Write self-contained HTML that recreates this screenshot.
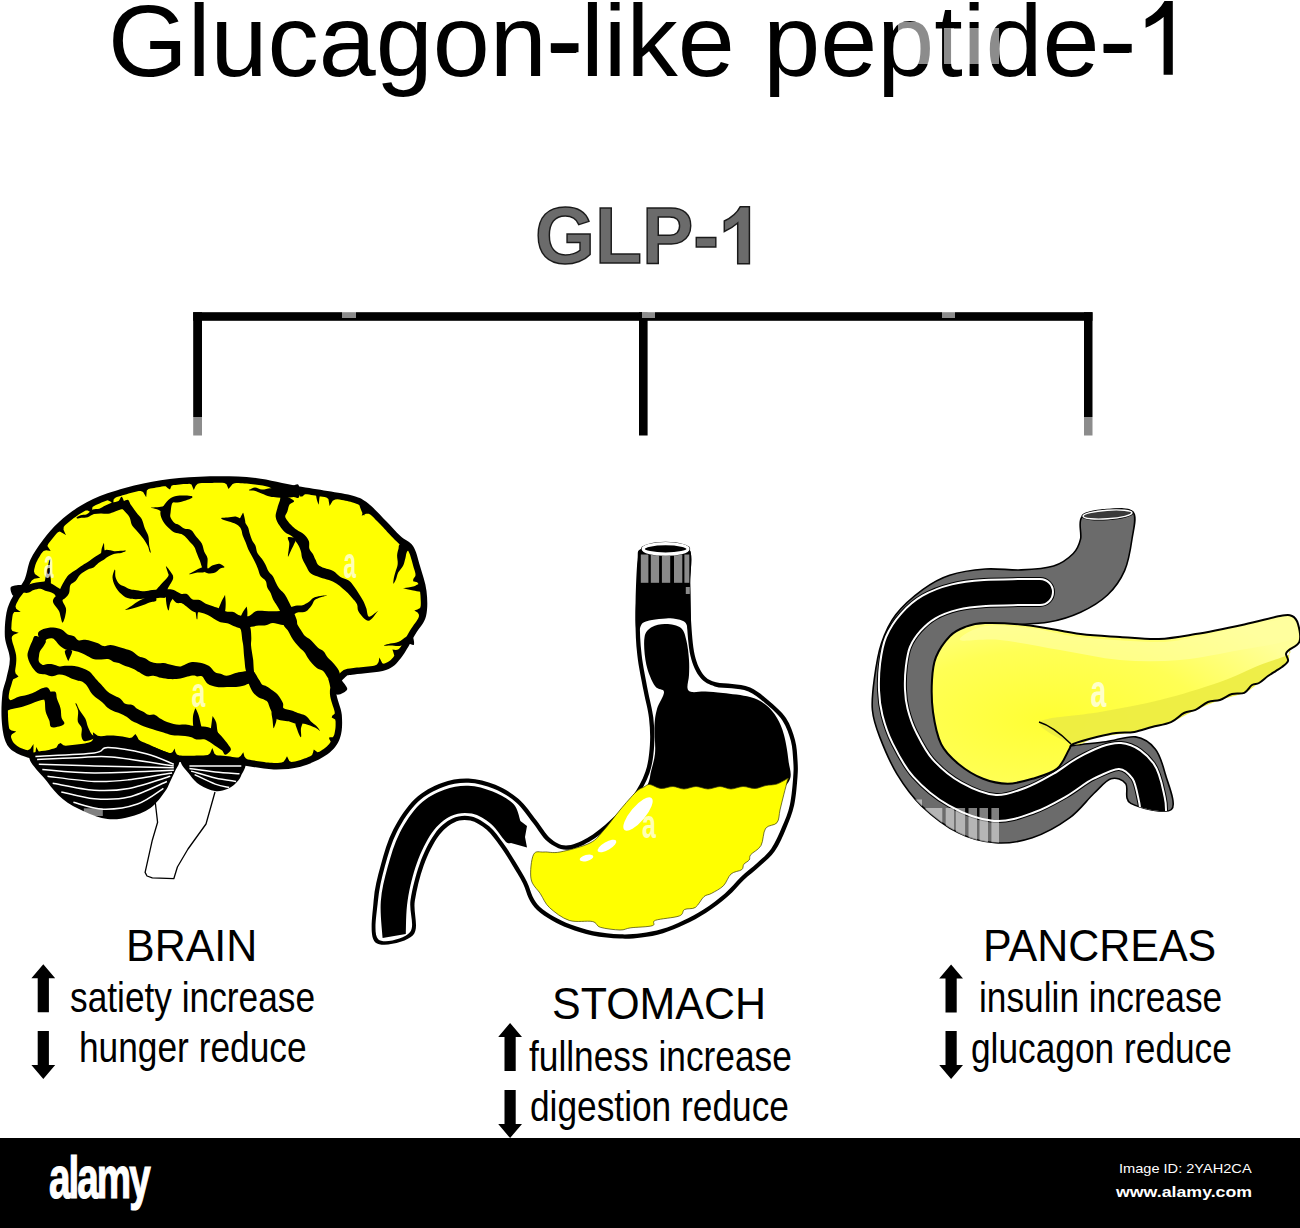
<!DOCTYPE html>
<html><head><meta charset="utf-8">
<style>
html,body{margin:0;padding:0;background:#fff;}
body{width:1300px;height:1228px;position:relative;overflow:hidden;font-family:"Liberation Sans",sans-serif;}
.t{position:absolute;white-space:nowrap;line-height:1;color:#000;transform-origin:0 0;}
#title{left:108px;top:-10px;font-size:102.5px;}
#glp{left:535px;top:196px;font-size:80px;transform:scaleX(0.963);font-weight:bold;color:#6b6b6b;-webkit-text-stroke:1.5px #1a1a1a;}
#bar{position:absolute;left:0;top:1138px;width:1300px;height:90px;background:#000;}
.lab{font-size:44.3px;transform:scaleX(0.97);}
.it{font-size:42px;transform:scaleX(0.84);}
</style></head><body>
<div class="t" id="title">Glucagon-like peptide-</div>
<div class="t" id="glp">GLP-</div>
<div class="t lab" id="brain" style="left:126px;top:923.5px">BRAIN</div>
<div class="t it" id="b1" style="left:70px;top:977px">satiety increase</div>
<div class="t it" id="b2" style="left:78.5px;top:1026.5px">hunger reduce</div>
<div class="t lab" id="stom" style="left:552px;top:982px">STOMACH</div>
<div class="t it" id="s1" style="left:529px;top:1035.6px">fullness increase</div>
<div class="t it" id="s2" style="left:529.5px;top:1086.3px">digestion reduce</div>
<div class="t lab" id="panc" style="left:983px;top:924.4px">PANCREAS</div>
<div class="t it" id="p1" style="left:979px;top:977px">insulin increase</div>
<div class="t it" id="p2" style="left:970.6px;top:1027.5px">glucagon reduce</div>
<svg id="gfx" width="1300" height="1228" viewBox="0 0 1300 1228" style="position:absolute;left:0;top:0">
<path d="M1172.8,0.9 L1172.8,74.8 L1163.6,74.8 L1163.6,17.1 Q1155,24.5 1145.6,27.7 L1145.6,18.9 Q1158,12.5 1164.5,0.9 Z" fill="#000"/>
<rect x="1103.5" y="43.9" width="28.2" height="8.7" fill="#000"/><rect x="550.8" y="43.2" width="27.7" height="9" fill="#000"/>
<path d="M749.4,206.7 L749.4,263.7 L737.7,263.7 L737.7,223 Q731.5,228.5 724.3,231.5 L724.3,221 Q735.5,216 740.3,206.7 Z" fill="#6b6b6b" stroke="#1a1a1a" stroke-width="1.5"/>
<g fill="#000">
<rect x="193.2" y="312.2" width="899.3" height="8.6"/>
<rect x="193.2" y="312.2" width="8.8" height="123.3"/>
<rect x="639" y="312.2" width="8.6" height="123.3"/>
<rect x="1084" y="312.2" width="8.5" height="123.3"/>
<polygon points="43.3,964.3 55.199999999999996,978.3 48.9,978.3 48.9,1012.3 37.699999999999996,1012.3 37.699999999999996,978.3 31.4,978.3"/><polygon points="43.3,1079 55.199999999999996,1065 48.9,1065 48.9,1031 37.699999999999996,1031 37.699999999999996,1065 31.4,1065"/><polygon points="510.1,1022.9 522.0,1036.9 515.7,1036.9 515.7,1070.9 504.5,1070.9 504.5,1036.9 498.20000000000005,1036.9"/><polygon points="510.1,1138 522.0,1124 515.7,1124 515.7,1090 504.5,1090 504.5,1124 498.20000000000005,1124"/><polygon points="951.1,964.5 963.0,978.5 956.7,978.5 956.7,1012.5 945.5,1012.5 945.5,978.5 939.2,978.5"/><polygon points="951.1,1079 963.0,1065 956.7,1065 956.7,1031 945.5,1031 945.5,1065 939.2,1065"/>
</g>
<!--ORGANS-->
<path d="M641,549C645.6,542.7 657,546 665,546C673,546 685.1,542.7 689.3,549C693.5,555.3 689.9,572.2 690.2,584C690.5,595.8 690.2,608.2 691,620C691.8,631.8 692.6,645.8 694.7,655C696.8,664.2 700.1,670.5 703.6,675C707.1,679.5 711.2,680.8 716,682.3C720.8,683.8 726.6,683.1 732.3,684C738,684.9 744.2,684.9 750.2,687.6C756.2,690.3 762,694.9 768,700C774,705.1 781.5,711.3 786,718C790.5,724.7 793.1,733 795,740C796.9,747 797.1,753.8 797.5,760C797.9,766.2 798.1,769.4 797.5,777C796.9,784.6 796,797 794.1,805.6C792.2,814.2 789.3,820.8 786.1,828.4C782.9,836 779.1,844.9 774.7,851.2C770.4,857.5 765.1,861.2 760,866C754.9,870.8 749.2,874.9 743.8,880C738.4,885.1 734,891.1 727.7,896.6C721.4,902.1 713.4,908.1 706.2,912.8C699,917.5 691.8,921.2 684.6,924.6C677.4,928 670.3,931.1 663.1,933.2C655.9,935.4 648.7,936.6 641.5,937.5C634.3,938.4 628.2,939 620,938.6C611.8,938.2 600.8,937.1 592.3,935.4C583.8,933.7 575.9,931 569.2,928.5C562.5,926 557.4,923.5 552,920.4C546.6,917.3 540.9,913.6 537,910C533.1,906.4 531.1,902.9 528.8,898.5C526.5,894.1 525.9,889.3 523,883.5C520.1,877.7 515.3,870 511.5,863.8C507.7,857.5 504.2,851.7 500,846C495.8,840.3 491.3,833.8 486.4,829.6C481.4,825.4 475.7,821.8 470.3,820.6C464.9,819.4 459.6,819.7 454.2,822.4C448.8,825.1 443.1,829.5 438,836.7C432.9,843.9 427.6,854.7 423.7,865.4C419.8,876.1 416.6,889.4 414.8,901C413,912.6 419.6,928.4 413,935.3C406.4,942.2 382,948.1 375.4,942.4C368.8,936.7 372.7,913.8 373.6,901C374.5,888.2 377.4,877.3 380.7,865.4C384,853.5 387.6,840.7 393.3,829.6C399,818.5 406.7,806.8 414.8,799C422.9,791.2 432.8,786.4 441.7,783C450.6,779.6 459.6,778.2 468.5,778.5C477.4,778.8 487,781.4 495.4,784.8C503.8,788.2 511.8,793 518.7,799C525.6,805 531.4,814.1 536.6,820.6C541.8,827.1 545.1,833.9 550,838C554.9,842.1 559.8,845.5 566,845.5C572.2,845.5 579.8,842.2 587.2,838C594.6,833.8 603,826.9 610.5,820C618,813.1 626.2,804.8 632,796.7C637.8,788.7 642.4,780.4 645.4,771.7C648.4,763.1 649.3,753.8 649.9,744.8C650.5,735.8 650,727 649,718C648,709 645.6,701.5 643.6,691C641.6,680.5 638.6,666.8 637.3,655C635.9,643.2 635.5,631.8 635.5,620C635.5,608.2 636.4,595.8 637.3,584C638.2,572.2 636.4,555.3 641,549Z" fill="#000"/>
<path d="M644.5,551.5C648.4,545.9 658.1,550.3 665,550.3C671.9,550.3 682.2,545.7 685.7,551.4C689.2,557 685.7,572.6 685.9,584.1C686.1,595.6 685.9,608.3 686.7,620.3C687.5,632.2 688.3,646.4 690.5,656C692.8,665.5 696.2,672.6 700.2,677.6C704.2,682.7 709.5,684.6 714.7,686.4C720,688.2 726,687.4 731.6,688.2C737.3,689.1 742.8,689 748.4,691.5C754,694 759.6,698.5 765.2,703.3C770.9,708.1 778.2,714.1 782.4,720.4C786.7,726.7 789.1,734.5 790.9,741.1C792.6,747.8 792.8,754.4 793.2,760.3C793.6,766.2 793.8,769.3 793.2,776.7C792.7,784.1 791.7,796.3 789.9,804.7C788.1,813 785.3,819.4 782.1,826.7C779,834.1 775.3,842.7 771.2,848.7C767,854.8 762.1,858.2 757.1,862.9C752,867.5 746.2,871.8 740.8,876.9C735.5,882 731,888 724.9,893.4C718.7,898.7 710.9,904.6 703.9,909.2C696.8,913.8 689.8,917.4 682.8,920.7C675.8,924 668.8,927 661.9,929.1C654.9,931.2 647.9,932.4 641,933.2C634,934.1 628.2,934.6 620.2,934.3C612.2,934 601.4,932.8 593.1,931.2C584.9,929.5 577.2,926.9 570.7,924.5C564.2,922.1 559.3,919.6 554.1,916.7C549,913.7 543.5,910.2 540,906.9C536.4,903.5 534.8,900.7 532.6,896.5C530.4,892.3 529.8,887.4 526.8,881.6C523.9,875.8 519.1,867.9 515.2,861.6C511.3,855.2 507.8,849.3 503.5,843.5C499.1,837.6 494.6,830.8 489.2,826.3C483.8,821.8 477.4,817.7 471.2,816.4C465.1,815.1 458.4,815.6 452.3,818.6C446.2,821.5 439.9,826.6 434.5,834.2C429.1,841.8 423.6,852.9 419.7,863.9C415.7,875 412.2,889 410.5,900.3C408.9,911.7 415.3,925.9 409.9,932.3C404.5,938.8 383.6,944.3 378.2,939.2C372.9,934 376.8,913.4 377.9,901.3C379,889.2 381.6,878.2 384.8,866.5C388.1,854.9 391.6,842.3 397.1,831.6C402.6,820.8 410.1,809.5 417.8,802.1C425.5,794.7 434.8,790.2 443.2,787C451.7,783.8 459.9,782.5 468.4,782.8C476.8,783.1 485.9,785.5 493.8,788.8C501.7,792 509.3,796.5 515.9,802.2C522.5,808 528,816.8 533.2,823.3C538.5,829.8 541.8,836.9 547.2,841.3C552.7,845.7 559,849.7 566,849.8C573,849.9 581.4,846.2 589.3,841.7C597.2,837.3 605.7,830.2 613.4,823.2C621.1,816.1 629.5,807.6 635.5,799.2C641.5,790.9 646.3,782.1 649.5,773.1C652.6,764.1 653.6,754.4 654.2,745.1C654.8,735.8 654.3,726.6 653.3,717.5C652.2,708.4 649.8,700.7 647.8,690.2C645.9,679.7 642.9,666.2 641.6,654.5C640.2,642.8 639.8,631.7 639.8,620C639.8,608.3 640.8,595.7 641.6,584.3C642.4,572.9 640.6,557.2 644.5,551.5Z" fill="#fff"/>
<path d="M637.5,560C638.4,551.5 636.4,551.3 641,549C645.6,546.7 657,546 665,546C673,546 685.1,542.7 689.3,549C693.5,555.3 689.9,571.3 690.2,584C690.5,596.7 691,616.2 691,625C691,633.8 690.9,637.3 690,637C689.1,636.7 688,626 685.7,623C683.4,620 679.3,619.8 676,619C672.7,618.2 670,618.3 666,618.5C662,618.7 655.9,619.2 652,620C648.1,620.8 644.9,621.3 642.7,623C640.5,624.7 640.1,629.2 639,630C637.9,630.8 636.6,633 636,628C635.4,623 635.4,611.3 635.6,600C635.9,588.7 636.6,568.5 637.5,560Z" fill="#000"/>
<path d="M666,624C670.8,624.2 677.6,625.2 681,628C684.4,630.8 685.2,635.7 686.5,641C687.8,646.3 688.6,654.3 689,660C689.4,665.7 689.2,670.3 689,675C688.8,679.7 687,685.2 687.5,688C688,690.8 689,691.4 692,692C695,692.6 700.2,691.3 705.4,691.5C710.6,691.7 715.6,692.1 723,693C730.4,693.9 742.8,695 750,697C757.2,699 761.5,701.5 766,705C770.5,708.5 774,713 777,718C780,723 782.1,728 784,735C785.9,742 787.6,752.2 788.4,760C789.1,767.8 793.2,775.3 788.5,782C783.8,788.7 774.8,797 760,800C745.2,803 718.3,800.5 700,800C681.7,799.5 658.3,800.8 650,797C641.7,793.2 649.2,784.2 650,777C650.8,769.8 654.2,762 655,753.7C655.8,745.4 654.2,734.5 654.5,727C654.8,719.5 655.4,714.8 657,709C658.6,703.2 664.3,695.8 664,692C663.7,688.2 658,690.6 655,686C652,681.4 648,672.5 646.3,664.4C644.5,656.3 643.5,643.7 644.5,637.5C645.5,631.3 648.4,629.2 652,627C655.6,624.8 661.2,623.8 666,624Z" fill="#000"/>
<path d="M649.9,784.5C652.7,784.8 657.1,788.2 661,788.5C664.9,788.8 669.2,786.4 673,786.5C676.8,786.6 680.2,789 684,789C687.8,789 692,786.5 696,786.5C700,786.5 704,789 708,789C712,789 716.2,786.5 720,786.5C723.8,786.5 727.2,789 731,789C734.8,789 739,786.6 743,786.5C747,786.4 751.2,788.7 755,788.5C758.8,788.3 762.3,786.2 766,785.5C769.7,784.8 773.4,785.1 777,784C780.6,782.9 786,779.1 787.7,778.6C789.4,778.1 787.9,778.4 787.3,781C786.7,783.6 785.1,789.4 783.9,794.2C782.7,799 781.1,805.2 780,810C778.9,814.8 779.4,819.6 777,822.7C774.6,825.8 768.3,824.6 765.6,828.4C762.9,832.2 763.5,841.1 761,845.5C758.5,849.9 752.8,852.2 750.8,854.6C748.8,857 750.4,858.4 749.2,860C748,861.6 745,862.7 743.8,864.3C742.5,865.9 743.8,868.1 741.7,869.7C739.6,871.3 734,871.3 731,874C728,876.7 726.6,882.6 723.4,885.8C720.1,889 714.7,891.6 711.5,893.4C708.3,895.2 706.7,894.3 704,896.6C701.3,898.9 698.6,905.2 695.4,907.4C692.2,909.5 687.3,908.1 684.6,909.5C681.9,910.9 684.1,914.2 679.2,916C674.4,917.8 660,918.7 655.5,920.3C651,921.9 656.4,924.5 652.3,925.7C648.2,927 636.2,927.1 630.8,927.8C625.4,928.5 625.1,930.1 620,930C614.9,929.9 605,928.7 600.4,927.3C595.8,925.9 597.5,922.6 592.3,921.5C587.1,920.4 576.3,922.7 569.2,920.4C562.1,918.1 554.4,912.1 549.6,907.7C544.8,903.3 543.5,898.6 540.4,893.8C537.3,889 532.1,885.3 531,878.8C529.9,872.3 531.3,859.1 533.5,854.6C535.7,850.1 539.6,852.4 544,852C548.4,851.6 552.3,853.5 560,852C567.7,850.5 582.7,846.7 590,843C597.3,839.3 599,835.5 604,830C609,824.5 614.7,816.3 620,810C625.3,803.7 632,795.8 636,792C640,788.2 641.7,788.2 644,787C646.3,785.8 647.1,784.2 649.9,784.5Z" fill="#ffff00" stroke="#3a3a00" stroke-width="0.7"/>
<ellipse cx="638" cy="814" rx="21" ry="7.5" transform="rotate(-50 638 814)" fill="#fff"/>
<ellipse cx="607" cy="846" rx="10.5" ry="4" transform="rotate(-30 607 846)" fill="#fff"/>
<ellipse cx="586.5" cy="858" rx="7" ry="3" transform="rotate(-15 586.5 858)" fill="#fff"/>
<path d="M520.4,820.9C519.2,818.1 518.1,808.9 513.5,804C508.9,799.1 500.2,794.5 492.7,791.5C485.1,788.4 476.3,786 468.3,785.7C460.2,785.4 452.3,786.6 444.3,789.7C436.2,792.8 427.2,797 419.8,804.2C412.4,811.4 405.1,822.4 399.7,832.9C394.3,843.4 390.8,855.9 387.6,867.3C384.5,878.7 381.6,889.7 380.8,901.5C379.9,913.3 382.3,931.9 382.6,938 L405.8,934.0 " fill="none"/>
<path d="M520.4,820.9C519.2,818.1 518.1,808.9 513.5,804C508.9,799.1 500.2,794.5 492.7,791.5C485.1,788.4 476.3,786 468.3,785.7C460.2,785.4 452.3,786.6 444.3,789.7C436.2,792.8 427.2,797 419.8,804.2C412.4,811.4 405.1,822.4 399.7,832.9C394.3,843.4 390.8,855.9 387.6,867.3C384.5,878.7 381.6,889.7 380.8,901.5C379.9,913.3 382.3,931.9 382.6,938 L405.8,934C406.1,928.3 405.8,911.8 407.7,899.9C409.5,888.1 412.9,874.2 416.9,863C421,851.7 426.5,840.4 432.1,832.5C437.8,824.7 444.4,819.1 451,816C457.6,812.8 465.2,812.2 471.9,813.6C478.6,814.9 485.5,819.5 491.1,824.1C496.7,828.8 502.2,838.3 505.5,841.4C508.9,844.5 510.1,842.7 511,843 L527,847.5 L525,837 L527,826 Z" fill="#000"/>
<rect x="640.8" y="554.5" width="7.6" height="28.3" fill="#8a8a8a"/>
<rect x="650.8" y="554.5" width="8.3" height="28.3" fill="#8a8a8a"/>
<rect x="661.9" y="554.5" width="8.3" height="28.3" fill="#8a8a8a"/>
<rect x="674" y="554.5" width="8.3" height="28.3" fill="#8a8a8a"/>
<rect x="684.4" y="554.5" width="4.9" height="28.3" fill="#8a8a8a"/>
<rect x="685.8" y="587" width="4" height="7" fill="#8a8a8a"/>
<ellipse cx="665.6" cy="548.9" rx="24.6" ry="7.1" fill="#000"/>
<ellipse cx="665.6" cy="548.9" rx="22.4" ry="5.2" fill="#000" stroke="#fff" stroke-width="3.2"/>
<path d="M1082,517C1086.4,512.2 1098.5,510.8 1107,510C1115.5,509.2 1128.8,507.2 1133,512C1137.2,516.8 1133.4,529.2 1132,539C1130.6,548.8 1128.7,561.3 1124.6,570.6C1120.5,579.9 1114.8,588.1 1107.5,595C1100.2,601.9 1090.4,607.7 1080.6,612.2C1070.8,616.7 1062.3,619.7 1048.9,622C1035.5,624.3 1014.8,624.3 1000,626C985.2,627.7 969.2,625.5 960,632C950.8,638.5 948.3,652.8 945,665C941.7,677.2 939.2,691.7 940,705C940.8,718.3 942.8,733.3 950,745C957.2,756.7 969.3,770 983,775C996.7,780 1018.2,779.3 1032,775C1045.8,770.7 1059,753.9 1066,749C1073,744.1 1067.3,746.7 1074,745.5C1080.7,744.3 1095.7,743.2 1106,741.8C1116.3,740.4 1127.5,735.7 1135.7,736.9C1143.9,738.1 1150.5,743.1 1155.4,749.2C1160.3,755.4 1162.5,763.8 1165.2,773.8C1167.9,783.8 1177.1,804.6 1171.4,809.5C1165.7,814.4 1138.4,807.7 1130.8,803.4C1123.2,799.1 1129.1,787.8 1125.8,783.7C1122.5,779.6 1116.3,777.2 1111,778.8C1105.7,780.4 1100.8,786.9 1093.8,793.5C1086.8,800.1 1079.5,810.8 1069.2,818.2C1059,825.6 1044.6,833.7 1032.3,837.8C1020,841.9 1007.7,843.6 995.4,842.8C983.1,842 970.8,839.1 958.5,832.9C946.2,826.7 931.8,815.6 921.5,805.8C911.2,795.9 903.9,785.3 896.9,773.8C889.9,762.3 883.8,747.5 879.7,736.9C875.6,726.3 873.3,719.6 872.4,710C871.5,700.4 872.8,690.1 874.3,679C875.8,667.9 877.9,654 881.5,643.3C885.1,632.6 888.9,623.7 895.8,614.7C902.7,605.8 913.7,596.2 922.7,589.6C931.7,583 939.2,578.6 949.6,575.2C960,571.8 973.5,569.9 985.4,569C997.3,568.1 1009.8,570.4 1021.2,569.9C1032.6,569.4 1044.9,568.7 1053.6,566C1062.3,563.3 1068.8,558 1073.3,553.5C1077.8,549 1079.1,545 1080.6,538.9C1082,532.8 1077.6,521.8 1082,517Z" fill="#6b6b6b" stroke="#000" stroke-width="1.6"/>
<clipPath id="gclip"><path d="M1082,517C1086.4,512.2 1098.5,510.8 1107,510C1115.5,509.2 1128.8,507.2 1133,512C1137.2,516.8 1133.4,529.2 1132,539C1130.6,548.8 1128.7,561.3 1124.6,570.6C1120.5,579.9 1114.8,588.1 1107.5,595C1100.2,601.9 1090.4,607.7 1080.6,612.2C1070.8,616.7 1062.3,619.7 1048.9,622C1035.5,624.3 1014.8,624.3 1000,626C985.2,627.7 969.2,625.5 960,632C950.8,638.5 948.3,652.8 945,665C941.7,677.2 939.2,691.7 940,705C940.8,718.3 942.8,733.3 950,745C957.2,756.7 969.3,770 983,775C996.7,780 1018.2,779.3 1032,775C1045.8,770.7 1059,753.9 1066,749C1073,744.1 1067.3,746.7 1074,745.5C1080.7,744.3 1095.7,743.2 1106,741.8C1116.3,740.4 1127.5,735.7 1135.7,736.9C1143.9,738.1 1150.5,743.1 1155.4,749.2C1160.3,755.4 1162.5,763.8 1165.2,773.8C1167.9,783.8 1177.1,804.6 1171.4,809.5C1165.7,814.4 1138.4,807.7 1130.8,803.4C1123.2,799.1 1129.1,787.8 1125.8,783.7C1122.5,779.6 1116.3,777.2 1111,778.8C1105.7,780.4 1100.8,786.9 1093.8,793.5C1086.8,800.1 1079.5,810.8 1069.2,818.2C1059,825.6 1044.6,833.7 1032.3,837.8C1020,841.9 1007.7,843.6 995.4,842.8C983.1,842 970.8,839.1 958.5,832.9C946.2,826.7 931.8,815.6 921.5,805.8C911.2,795.9 903.9,785.3 896.9,773.8C889.9,762.3 883.8,747.5 879.7,736.9C875.6,726.3 873.3,719.6 872.4,710C871.5,700.4 872.8,690.1 874.3,679C875.8,667.9 877.9,654 881.5,643.3C885.1,632.6 888.9,623.7 895.8,614.7C902.7,605.8 913.7,596.2 922.7,589.6C931.7,583 939.2,578.6 949.6,575.2C960,571.8 973.5,569.9 985.4,569C997.3,568.1 1009.8,570.4 1021.2,569.9C1032.6,569.4 1044.9,568.7 1053.6,566C1062.3,563.3 1068.8,558 1073.3,553.5C1077.8,549 1079.1,545 1080.6,538.9C1082,532.8 1077.6,521.8 1082,517Z"/></clipPath>
<g clip-path="url(#gclip)"><path d="M1040,592C1036.8,592 1030.2,591.8 1021,592C1011.8,592.2 996,592.2 985,593C974,593.8 964.3,594.7 955,597C945.7,599.3 936.3,602.8 929,607C921.7,611.2 916.2,616.2 911,622C905.8,627.8 901,634.8 898,642C895,649.2 894,657 893,665C892,673 891.7,682.2 892,690C892.3,697.8 893,704.2 895,712C897,719.8 899.3,727.7 904,737C908.7,746.3 914.5,758.5 923,768C931.5,777.5 943,787.3 955,794C967,800.7 982.5,807 995,808C1007.5,809 1019.2,803.8 1030,800C1040.8,796.2 1050.3,790.5 1060,785C1069.7,779.5 1078,771.8 1088,767C1098,762.2 1110.8,755.3 1120,756C1129.2,756.7 1137.7,763.7 1143,771C1148.3,778.3 1150.3,792.7 1152,800C1153.7,807.3 1152.8,812.5 1153,815" fill="none" stroke="#000" stroke-width="30" stroke-linejoin="round" stroke-linecap="round"/>
<path d="M1040,592C1036.8,592 1030.2,591.8 1021,592C1011.8,592.2 996,592.2 985,593C974,593.8 964.3,594.7 955,597C945.7,599.3 936.3,602.8 929,607C921.7,611.2 916.2,616.2 911,622C905.8,627.8 901,634.8 898,642C895,649.2 894,657 893,665C892,673 891.7,682.2 892,690C892.3,697.8 893,704.2 895,712C897,719.8 899.3,727.7 904,737C908.7,746.3 914.5,758.5 923,768C931.5,777.5 943,787.3 955,794C967,800.7 982.5,807 995,808C1007.5,809 1019.2,803.8 1030,800C1040.8,796.2 1050.3,790.5 1060,785C1069.7,779.5 1078,771.8 1088,767C1098,762.2 1110.8,755.3 1120,756C1129.2,756.7 1137.7,763.7 1143,771C1148.3,778.3 1150.3,792.7 1152,800C1153.7,807.3 1152.8,812.5 1153,815" fill="none" stroke="#fff" stroke-width="28" stroke-linejoin="round" stroke-linecap="round"/>
<path d="M1040,592C1036.8,592 1030.2,591.8 1021,592C1011.8,592.2 996,592.2 985,593C974,593.8 964.3,594.7 955,597C945.7,599.3 936.3,602.8 929,607C921.7,611.2 916.2,616.2 911,622C905.8,627.8 901,634.8 898,642C895,649.2 894,657 893,665C892,673 891.7,682.2 892,690C892.3,697.8 893,704.2 895,712C897,719.8 899.3,727.7 904,737C908.7,746.3 914.5,758.5 923,768C931.5,777.5 943,787.3 955,794C967,800.7 982.5,807 995,808C1007.5,809 1019.2,803.8 1030,800C1040.8,796.2 1050.3,790.5 1060,785C1069.7,779.5 1078,771.8 1088,767C1098,762.2 1110.8,755.3 1120,756C1129.2,756.7 1137.7,763.7 1143,771C1148.3,778.3 1150.3,792.7 1152,800C1153.7,807.3 1152.8,812.5 1153,815" fill="none" stroke="#000" stroke-width="24" stroke-linejoin="round" stroke-linecap="round"/></g>
<defs><radialGradient id="pg" cx="0.32" cy="0.62" r="0.75"><stop offset="0" stop-color="#ffff33"/><stop offset="0.55" stop-color="#ffff55"/><stop offset="1" stop-color="#ffff99"/></radialGradient><linearGradient id="pt" x1="0" y1="0" x2="0" y2="1"><stop offset="0" stop-color="#ffff88" stop-opacity="0"/><stop offset="1" stop-color="#e6e640" stop-opacity="1"/></linearGradient></defs>
<path d="M985,623C995.8,622.7 1014.1,623.5 1030,625.4C1045.9,627.2 1065.6,632.2 1080.6,634.1C1095.6,636 1107,636.2 1120,637C1133,637.8 1146.2,639.5 1158.8,639C1171.4,638.5 1181.2,636.5 1195.5,634.1C1209.8,631.7 1230.2,627.4 1244.3,624.4C1258.4,621.4 1272,617.4 1280,616C1288,614.6 1289,614.7 1292,616C1295,617.3 1296.8,619.8 1298,624C1299.2,628.2 1301,637.2 1299.5,641.5C1298,645.8 1291.2,647.9 1289,650C1286.8,652.1 1286.2,652.2 1286,654C1285.8,655.8 1288.7,658.8 1288,661C1287.3,663.2 1284,665.4 1282,667C1280,668.6 1278.3,669.3 1276,670.8C1273.7,672.3 1270.8,674 1268,676C1265.2,678 1261.7,681.5 1259,683C1256.3,684.5 1254.5,683.4 1252,685C1249.5,686.6 1247.6,691.3 1244.3,692.8C1241,694.3 1236.1,692.8 1232,694C1227.9,695.2 1223.9,698.7 1219.9,700C1215.9,701.3 1212.1,700.4 1208,702C1203.9,703.6 1199.5,708.1 1195.5,709.9C1191.5,711.7 1188.1,711 1184,713C1179.9,715 1176.3,719.8 1171,722.1C1165.7,724.4 1158.1,725.4 1152,727C1145.9,728.6 1140.4,730.9 1134.4,731.9C1128.4,732.9 1122.1,732.2 1116,733C1109.9,733.8 1104.8,735 1097.7,736.8C1090.6,738.6 1078,741.9 1073.3,744C1068.5,746.1 1071.9,745.1 1069.2,749.2C1066.5,753.4 1063.1,764 1056.9,768.9C1050.8,773.8 1040.5,776.3 1032.3,778.8C1024.1,781.3 1015.9,783.7 1007.7,783.7C999.5,783.7 991.3,782.1 983.1,778.8C974.9,775.5 965.5,769.8 958.5,764C951.5,758.2 945.5,753 941.2,744.3C937,735.6 934.5,722.7 933,712C931.5,701.3 931.5,689.2 932,680C932.5,670.8 933,664.3 936,657C939,649.7 945.2,641 950,636C954.8,631 959.2,629.2 965,627C970.8,624.8 974.2,623.3 985,623Z" fill="url(#pg)"/>
<path d="M1040,722C1044.5,716.7 1080,715.7 1100,712C1120,708.3 1140,705 1160,700C1180,695 1203.3,687.8 1220,682C1236.7,676.2 1248.7,669.5 1260,665C1271.3,660.5 1283.2,657.5 1288,655C1292.8,652.5 1289,649 1289,650C1289,651 1290,657.7 1288,661C1286,664.3 1281.7,666.5 1277,670C1272.3,673.5 1265.3,678.2 1260,682C1254.7,685.8 1251.7,689.5 1245,692.5C1238.3,695.5 1228.2,697.1 1220,700C1211.8,702.9 1203.7,706.3 1195.5,710C1187.3,713.7 1181.2,718.4 1171,722C1160.8,725.6 1146.6,729.4 1134.4,731.9C1122.2,734.4 1107.9,734.8 1097.7,736.8C1087.5,738.8 1082.9,746.5 1073.3,744C1063.7,741.5 1035.5,727.3 1040,722Z" fill="#ecec42" opacity="0.9"/>
<path d="M985,626C996.7,624 1014.2,626.2 1030,628C1045.8,629.8 1058.7,634.7 1080,637C1101.3,639.3 1138.8,642 1158,642C1177.2,642 1180.7,639.5 1195,637C1209.3,634.5 1228.5,630 1244,627C1259.5,624 1279.3,618.8 1288,619C1296.7,619.2 1295.7,624.5 1296,628C1296.3,631.5 1299.3,636.3 1290,640C1280.7,643.7 1258.3,646.7 1240,650C1221.7,653.3 1200,658.3 1180,660C1160,661.7 1140,661.7 1120,660C1100,658.3 1080,653.3 1060,650C1040,646.7 1016.7,641.7 1000,640C983.3,638.3 962.5,642.3 960,640C957.5,637.7 973.3,628 985,626Z" fill="#ffffa0" opacity="0.7"/>
<path d="M985,623C995.8,622.7 1014.1,623.5 1030,625.4C1045.9,627.2 1065.6,632.2 1080.6,634.1C1095.6,636 1107,636.2 1120,637C1133,637.8 1146.2,639.5 1158.8,639C1171.4,638.5 1181.2,636.5 1195.5,634.1C1209.8,631.7 1230.2,627.4 1244.3,624.4C1258.4,621.4 1272,617.4 1280,616C1288,614.6 1289,614.7 1292,616C1295,617.3 1296.8,619.8 1298,624C1299.2,628.2 1301,637.2 1299.5,641.5C1298,645.8 1291.2,647.9 1289,650C1286.8,652.1 1286.2,652.2 1286,654C1285.8,655.8 1288.7,658.8 1288,661C1287.3,663.2 1284,665.4 1282,667C1280,668.6 1278.3,669.3 1276,670.8C1273.7,672.3 1270.8,674 1268,676C1265.2,678 1261.7,681.5 1259,683C1256.3,684.5 1254.5,683.4 1252,685C1249.5,686.6 1247.6,691.3 1244.3,692.8C1241,694.3 1236.1,692.8 1232,694C1227.9,695.2 1223.9,698.7 1219.9,700C1215.9,701.3 1212.1,700.4 1208,702C1203.9,703.6 1199.5,708.1 1195.5,709.9C1191.5,711.7 1188.1,711 1184,713C1179.9,715 1176.3,719.8 1171,722.1C1165.7,724.4 1158.1,725.4 1152,727C1145.9,728.6 1140.4,730.9 1134.4,731.9C1128.4,732.9 1122.1,732.2 1116,733C1109.9,733.8 1104.8,735 1097.7,736.8C1090.6,738.6 1078,741.9 1073.3,744C1068.5,746.1 1071.9,745.1 1069.2,749.2C1066.5,753.4 1063.1,764 1056.9,768.9C1050.8,773.8 1040.5,776.3 1032.3,778.8C1024.1,781.3 1015.9,783.7 1007.7,783.7C999.5,783.7 991.3,782.1 983.1,778.8C974.9,775.5 965.5,769.8 958.5,764C951.5,758.2 945.5,753 941.2,744.3C937,735.6 934.5,722.7 933,712C931.5,701.3 931.5,689.2 932,680C932.5,670.8 933,664.3 936,657C939,649.7 945.2,641 950,636C954.8,631 959.2,629.2 965,627C970.8,624.8 974.2,623.3 985,623Z" fill="none" stroke="#000" stroke-width="2"/>
<path d="M1039,722 C1052,726 1062,735 1071,744" fill="none" stroke="#000" stroke-width="1.5"/>
<rect x="914.4" y="799.5" width="7.6" height="8.5" fill="#fff" fill-opacity="0.5" clip-path="url(#gclip)"/>
<rect x="925.4" y="808" width="16.9" height="16.0" fill="#fff" fill-opacity="0.5" clip-path="url(#gclip)"/>
<rect x="945.7" y="808" width="8.4" height="34.6" fill="#fff" fill-opacity="0.5" clip-path="url(#gclip)"/>
<rect x="955.8" y="808" width="9.3" height="34.6" fill="#fff" fill-opacity="0.5" clip-path="url(#gclip)"/>
<rect x="968.5" y="808" width="8.5" height="34.6" fill="#fff" fill-opacity="0.5" clip-path="url(#gclip)"/>
<rect x="979.5" y="808" width="8.5" height="34.6" fill="#fff" fill-opacity="0.5" clip-path="url(#gclip)"/>
<rect x="991.4" y="808" width="7.6" height="34.6" fill="#fff" fill-opacity="0.5" clip-path="url(#gclip)"/>
<ellipse cx="1107.5" cy="514.5" rx="25.7" ry="5.2" transform="rotate(-4 1107.5 514.5)" fill="#3a3a3a" stroke="#000" stroke-width="1"/>
<ellipse cx="1107.5" cy="514.5" rx="24.5" ry="4.3" transform="rotate(-4 1107.5 514.5)" fill="none" stroke="#fff" stroke-width="1.4"/>
<path d="M156,770 L155,800 L157.6,822.3 L152.3,840.2 L145.1,872.4 L147,876 L152.3,877.8 L173.8,878.7 L177.4,867 L188,849 L206,824 L215,792 L218,770Z" fill="#fff"/>
<path d="M155,800 L157.6,822.3 L152.3,840.2 L145.1,872.4 L147,876 L152.3,877.8 L173.8,878.7 L177.4,867 L188,849 L206,824 L215,792" fill="none" stroke="#000" stroke-width="1.3" stroke-linejoin="round"/>
<path d="M29.3,758C24.8,756.7 17.1,754 13,751C8.9,748 6.8,745.1 4.9,739.7C3,734.3 2,726.1 1.6,718.5C1.2,710.9 1.6,700.8 2.4,694C3.2,687.2 5.3,683.8 6.5,677.8C7.7,671.8 10.1,665 9.8,658.2C9.5,651.4 5.5,644.6 4.9,637C4.4,629.4 5.2,619.4 6.5,612.6C7.8,605.8 10,601.7 13,596.3C16,590.9 21.5,586.1 24.4,580C27.3,573.9 27.4,566.3 30.5,559.6C33.6,552.9 38.2,546.3 43,540C47.8,533.7 52.7,527.7 59,522C65.3,516.3 72.5,510.6 80.6,505.8C88.7,501 97,497 107.5,493.3C118,489.6 131.4,485.9 143.3,483.4C155.2,480.8 166.2,479.2 179,478C191.8,476.8 207.2,476.3 220,476.3C232.8,476.3 243,476.4 255.8,478C268.6,479.6 285.1,483.8 297,486C308.9,488.2 318,489.3 327.5,491C337,492.7 347.1,493.9 353.8,496C360.6,498.1 362.6,499.1 368,503.3C373.4,507.5 380.6,515.5 386,521C391.4,526.5 395.9,531.8 400.4,536C404.9,540.2 409.7,541 413,546C416.3,551 417.8,558.5 420,566C422.2,573.5 425.5,582.6 426.5,591C427.5,599.4 427.8,609 426,616.2C424.2,623.4 419.7,627 415.5,634C411.3,641 405.9,652 401,658C396.1,664 393.8,667.2 386,670C378.2,672.8 361.2,673.3 354.4,674.5C347.6,675.7 348.4,674.2 345.4,677C342.4,679.8 337,685.2 336.4,691.5C335.8,697.8 341.2,707 341.8,714.8C342.4,722.5 342.4,731.4 340,738C337.6,744.6 334.1,749.4 327.5,754.2C320.9,759 309.6,764.2 300.6,766.7C291.6,769.2 282.6,769.5 273.7,769.4C264.8,769.3 255.8,767.2 246.9,766C238,764.8 231.3,762.7 220,762C208.7,761.3 188.8,762.8 179,762C169.2,761.2 168.6,759.7 161.2,757C153.8,754.3 143.3,748.5 134.4,746C125.5,743.5 115,741.5 107.5,742C100,742.5 97.1,747.2 89.6,749C82.1,750.8 71,751.3 62.7,753C54.4,754.7 45.6,758.2 40,759C34.4,759.8 33.8,759.3 29.3,758Z" fill="#000"/>
<path d="M33.5,744.1 L30.2,748.9 L27.7,750.2 L25.5,749.8 L23.4,749.1 L21.4,748.3 L19.6,747.4 L18,746.6 L16.9,745.8 L15.4,744.6 L14.3,743.5 L13.4,742.4 L12.6,741.2 L11.8,739.6 L11.1,737.5 L11,736.1 L11.9,734.2 L16.3,731.5 L11.5,730.6 L9.4,728.9 L8.9,726.9 L8.6,724.7 L8.4,722.6 L8.2,720.3 L8.1,718.1 L8,716.3 L8,714.4 L7.9,712.4 L7.9,710.3 L8,708.3 L8.2,706.2 L9.4,704.1 L14.6,702.4 L10.1,700.2 L8.7,698.2 L8.7,696.4 L8.8,694.9 L9.2,692.7 L9.5,690.9 L10,689.2 L10.5,687.5 L11.1,685.7 L11.7,683.7 L12.3,681.5 L13.2,679.3 L16,677.9 L18.5,676.4 L15.6,673.4 L15.1,670.9 L15.4,668.5 L15.8,666 L16.1,663.4 L16.3,660.7 L16.3,657.9 L16.1,655.3 L15.6,652.7 L15,650.4 L14.3,648.1 L13.7,645.9 L13,643.9 L12.4,641.9 L12,640 L11.7,638.2 L12,636.4 L13.7,634.7 L18.7,632.8 L12.4,631 L11.3,629 L11.4,627 L11.5,624.9 L11.6,622.9 L11.8,620.9 L12.1,619 L12.3,617.2 L12.6,615.5 L12.9,613.9 L14.3,612 L20.7,612 L16.2,608.8 L15.5,606.6 L15.9,604.9 L16.7,603.1 L17.6,601.4 L18.6,599.5 L19.5,598.1 L20.6,596.6 L21.8,595 L23.1,593.3 L24.5,591.5 L26,589.6 L27.5,587.5 L29,585.3 L30.3,582.9 L31.8,580.6 L34.3,578.8 L40.2,577.7 L34.9,573.9 L34,571.5 L34.2,569.4 L34.7,567.4 L35.2,565.6 L35.7,563.9 L36.4,562.3 L37.2,560.7 L38,559.1 L39,557.4 L40,555.7 L41,554 L42.2,552.4 L43.6,550.9 L46.2,550.2 L50.7,551 L47.4,546 L48.2,543.9 L49.3,542.4 L50.5,540.9 L51.7,539.4 L52.9,537.9 L54.1,536.5 L55.3,535.1 L56.6,533.6 L57.9,532.3 L59.8,531.5 L65.9,535 L63.5,529.8 L63.7,527.1 L64.8,525.6 L66.2,524.3 L67.7,523 L69.2,521.8 L70.7,520.6 L72.3,519.3 L73.8,518.1 L75.5,516.9 L77.1,515.8 L78.8,514.6 L80.5,513.5 L82.2,512.5 L83.9,511.4 L85.7,510.6 L87.8,510.4 L91,512.4 L92,510.3 L92.5,507 L94.1,505.9 L95.9,505 L97.7,504.2 L99.6,503.4 L101.5,502.6 L103.5,501.8 L105.5,501 L107.6,500.3 L110.4,501.5 L113.2,504 L113.6,499.6 L115,497.9 L116.8,497.1 L118.7,496.5 L120.6,495.9 L122.6,495.3 L124.6,494.7 L126.6,494.2 L128.6,493.6 L130.6,493.1 L132.6,492.6 L134.7,492.1 L136.7,491.6 L138.7,491.1 L140.8,491 L143.1,492 L146.2,497.2 L146.8,490.5 L148.5,489 L150.4,488.6 L152.3,488.2 L154.2,487.9 L156.1,487.5 L158,487.2 L159.9,486.9 L161.8,486.6 L163.7,486.3 L165.7,486.3 L167.9,488.2 L170,489.6 L171.5,485.8 L173.5,485.1 L175.5,484.9 L177.5,484.7 L179.6,484.5 L181.5,484.3 L183.4,484.1 L185.4,484 L187.4,483.9 L189.4,483.8 L191.5,484.4 L193.8,490 L195.7,485.7 L197.7,483.7 L199.8,483.3 L201.8,483.1 L203.9,483.1 L206,483 L208.1,482.9 L210.1,482.9 L212.1,482.9 L214.2,482.8 L216.1,482.8 L218.1,482.8 L220,482.8 L222.2,482.8 L224.4,483 L226.5,484.2 L228.5,488.9 L230.6,486.5 L232.6,484.1 L234.7,483.3 L236.6,483.1 L238.6,483.1 L240.6,483.2 L242.6,483.3 L244.6,483.4 L246.6,483.6 L248.6,483.8 L250.7,484 L252.8,484.2 L255,484.4 L256.8,484.7 L258.8,485 L260.7,485.3 L262.7,485.6 L264.8,486 L266.9,486.4 L268.9,487 L270.9,488.1 L272.7,490.5 L273.9,495.3 L277.3,489.5 L279.7,489.1 L281.8,489.5 L283.9,490 L286,490.4 L288,490.9 L290,491.3 L292,491.7 L294,492 L295.8,492.4 L298.2,493.1 L300,496.4 L302.3,496.6 L304.9,494.3 L307.1,494.3 L309.2,494.6 L311.2,495 L313.2,495.3 L315.1,495.6 L317,495.9 L318.9,496.2 L320.8,496.5 L322.7,496.8 L324.5,497.1 L326.4,497.5 L328.4,499 L329.6,505.9 L332.7,500.7 L335.2,499.4 L337.4,499.3 L339.5,499.6 L341.6,499.9 L343.6,500.3 L345.5,500.7 L347.3,501 L348.9,501.4 L350.5,501.8 L351.9,502.2 L354.4,503 L356.3,503.7 L357.8,504.3 L359.1,505 L360.4,505.8 L362,507 L363.4,509.2 L363.1,511.8 L361.7,515.8 L366,513.8 L368.7,513.8 L370.6,514.8 L372.3,516.3 L373.9,517.8 L375.4,519.4 L377,521 L378.5,522.6 L380,524.1 L381.4,525.5 L382.9,527.1 L384.4,528.7 L385.9,530.3 L387.3,531.9 L388.8,533.4 L390.2,534.9 L391.6,536.4 L393.1,537.9 L394.5,539.4 L396.1,540.9 L398,542.8 L399.8,544.7 L400.9,547.2 L400.6,551.1 L402.6,550.3 L405.2,548.7 L406.6,548.8 L407.6,549.7 L408.2,550.7 L408.8,552 L409.5,553.5 L410.1,555.1 L410.7,557 L411.3,559 L411.9,561.1 L412.5,563.3 L413.1,565.5 L413.8,567.9 L414.4,569.8 L415,571.8 L415.5,573.9 L415.4,576.1 L413.3,579 L413.1,581.2 L417.2,582.2 L418.5,584.1 L419,586 L419.4,588 L419.8,589.9 L420.1,591.8 L420.3,593.8 L420.5,595.8 L420.6,597.9 L420.7,599.9 L420.8,602 L420.8,604 L420.7,606 L420.1,607.9 L417.4,609.4 L414.3,610.6 L417.6,612.6 L418.8,614.3 L419,616 L418.6,617.4 L418,618.7 L417.2,620.1 L416.3,621.5 L415.2,623 L414,624.6 L412.7,626.4 L411.3,628.4 L410,630.6 L409,632.3 L408,634 L407,635.8 L406,637.6 L405,639.4 L403.9,641.3 L402.9,643.1 L401.8,645 L400.8,646.7 L399.6,648.3 L398.1,649.5 L395.9,650.1 L392.4,649.4 L393.2,651.8 L394.3,655.7 L393.1,657.4 L391.9,658.7 L390.8,659.9 L389.8,660.8 L388.7,661.6 L387.4,662.3 L385.8,663.1 L383.8,663.8 L382.3,663.3 L379.4,657.6 L378.6,662 L377,664.5 L374.9,665.5 L372.7,666 L370.3,666.2 L368,666.5 L365.6,666.7 L363.3,667 L361,667.2 L358.9,667.4 L356.9,667.6 L355,667.8 L353.5,668.1 L349.9,668.5 L347.4,668.7 L343.7,670 L341.1,672.1 L339.6,673.6 L338,675.1 L336,676.7 L333.3,678.1 L328.2,678.7 L329.5,683.4 L330.3,687.4 L329.9,690.8 L329.9,693.6 L330.2,696.3 L330.7,698.8 L331.4,701.2 L332.1,703.5 L332.8,705.8 L333.6,707.9 L334.2,710 L334.7,712 L334.7,713.8 L332.2,715.7 L331.7,717.5 L335.2,719.4 L335.6,721.4 L335.6,723.5 L335.6,725.5 L335.5,727.4 L335.3,729.3 L335,731.1 L334.7,732.8 L334.3,734.4 L333.8,735.8 L332.8,737.2 L329.4,737.3 L329.1,738.7 L330.7,741.4 L330.1,742.8 L329.2,744 L328,745.3 L326.8,746.5 L325.3,747.7 L323.7,749 L322.4,749.8 L321,750.7 L319.4,751.7 L317.5,752.2 L313.8,749.4 L313.1,752.3 L312.1,755.1 L310.3,756.2 L308.3,757.1 L306.3,757.9 L304.4,758.6 L302.5,759.3 L300.6,759.9 L298.8,760.4 L297,760.9 L295.1,761.4 L293.2,761.7 L291.3,761.9 L289.3,761.1 L287,756.2 L285.4,759.2 L283.6,761.7 L281.7,762.6 L279.8,762.8 L277.8,762.9 L275.8,762.9 L273.8,762.9 L271.9,762.8 L270,762.7 L268.1,762.6 L266.2,762.4 L264.2,762.1 L262.3,761.8 L260.3,761.5 L258.3,761.2 L256.2,760.9 L254.1,760.5 L252,760.2 L249.9,759.8 L247.9,759.4 L246,758.5 L244.4,756.6 L243.3,752.2 L240.7,756.1 L238.5,757.6 L236.5,757.5 L234.5,757.2 L232.4,756.9 L230.3,756.5 L228,756.2 L225.6,755.9 L223.1,755.7 L220.4,755.5 L218.5,755.4 L216.5,755.2 L214.5,753.8 L212.3,748 L210.1,753.3 L207.9,754.9 L205.6,755.3 L203.4,755.4 L201.1,755.5 L198.8,755.6 L196.5,755.6 L194.3,755.7 L192.1,755.7 L190,755.7 L187.9,755.8 L186,755.8 L184.2,755.7 L182.5,755.7 L180.9,755.6 L179.6,755.5 L176.9,754.6 L175.3,751.8 L174.7,748.4 L172.6,752 L171,753.1 L169.5,753.1 L167.8,752.6 L165.8,751.8 L163.5,750.9 L161.9,750.3 L160.4,749.7 L158.7,749 L156.9,748.2 L155,747.3 L153,746.4 L151,745.5 L149,744.6 L146.9,743.7 L144.8,742.8 L142.7,741.9 L140.6,741 L138.6,739.5 L137.1,736.6 L135.4,733.9 L132,737.6 L129.5,737.9 L127.2,737.5 L124.9,737.1 L122.6,736.6 L120.3,736.3 L118,736 L115.7,735.7 L113.5,735.5 L111.3,735.4 L109.2,735.4 L106.9,735.5 L103.9,735.9 L100.9,736.3 L97.7,735.7 L92.9,732.2 L93.4,737.9 L92.6,740.3 L91.3,741.4 L89.8,742.2 L87.9,742.7 L86.5,743 L84.8,743.4 L82.9,743.7 L81,743.9 L78.9,744.2 L76.8,744.5 L74.6,744.7 L72.4,745 L70.1,745.3 L67.9,745.5 L65.7,745.7 L63.4,745.3 L60.6,742.9 L58.3,744.3 L56.5,747.6 L54.1,748.4 L51.8,749.1 L49.6,749.8 L47.4,750.4 L45.4,751 L43.5,751.5 L41.8,752 L40.3,752.3 L39,752 L36.2,747 L35.5,752.2 L34.7,752.7 L33.4,752.4Z" fill="#ffff00"/>
<path d="M77.1,518.4C77.9,518.5 79.6,517.9 81.4,517.7C83.2,517.6 85.6,517.8 87.7,517.2C89.8,516.6 91.8,514.8 94,514.1C96.2,513.5 98.4,513.4 100.8,513.4C103.1,513.3 105.7,514 108.1,513.7C110.5,513.4 112.9,512.2 115.1,511.4C117.3,510.7 119.5,509.8 121.3,509.3C123.1,508.8 125.7,510.4 125.8,508.3C125.9,506.3 123.2,498.3 122,497C120.8,495.8 120.1,500 118.5,500.9C116.8,501.8 114.3,501.9 112.1,502.6C109.9,503.4 107.5,504.5 105.4,505.5C103.2,506.5 101.4,508 99.3,508.7C97.1,509.4 94.7,508.7 92.6,509.6C90.5,510.6 88.8,513.4 86.8,514.3C84.8,515.2 82.3,514.7 80.6,515.2C79,515.7 77.4,516.7 76.8,517.2C76.2,517.7 76.3,518.3 77.1,518.4Z" fill="#000"/>
<path d="M120.2,504.5C119.6,506.2 122,507.9 123.5,510C125,512.1 128,514.4 129.4,517C130.8,519.5 130.6,522.7 132,525.2C133.5,527.7 136.2,530 138,532.2C139.9,534.4 141.4,536 143,538.2C144.6,540.5 146.6,543.4 147.7,545.7C148.9,548 149.3,551 149.8,552C150.3,553.1 150.8,553 150.7,551.9C150.6,550.7 149.6,547.9 149.2,545.3C148.8,542.6 149.1,538.9 148.3,536C147.6,533.2 145.9,531 144.8,528.2C143.7,525.3 143.1,521.6 141.7,519C140.3,516.4 138.1,514.8 136.4,512.4C134.6,510.1 132.4,507.2 131,505.1C129.5,503 129.3,499.8 127.5,499.7C125.7,499.6 120.9,502.8 120.2,504.5Z" fill="#000"/>
<path d="M191.6,496.1C190.5,495.6 187.7,495.4 185.1,495.4C182.5,495.4 178.9,495.3 176.1,496C173.4,496.8 171.2,497.3 168.6,499.8C166,502.4 161.6,507.8 160.6,511.3C159.7,514.9 161.5,518.2 162.9,521C164.3,523.9 167,526.4 169,528.3C170.9,530.2 172.6,531.6 174.6,532.5C176.7,533.5 179.5,533.3 181.4,534.1C183.3,534.9 184.4,536 186,537.5C187.6,539 189.4,541.3 190.9,543C192.3,544.6 193.6,545.6 194.6,547.4C195.5,549.1 195.9,551.2 196.8,553.3C197.6,555.5 198.4,557.3 199.7,560.3C201,563.4 202.1,569.6 204.4,571.7C206.8,573.9 211.2,573.6 213.8,573C216.5,572.5 218.6,569.4 220.3,568.5C222,567.5 223.4,567.7 224,567.4C224.6,567.1 224.8,567.1 224,566.5C223.2,565.9 221.3,563.8 219.4,563.7C217.4,563.5 214.2,564.8 212.2,565.6C210.2,566.3 208.4,569.5 207.6,568.3C206.8,567 208,561 207.5,558.2C206.9,555.4 205.2,554 204.2,551.6C203.3,549.1 203.1,545.9 201.8,543.5C200.5,541.1 198.3,539.3 196.5,537.1C194.7,534.8 193.1,531.5 191,530.1C188.9,528.6 186.2,529.4 184.2,528.5C182.2,527.7 180.6,525.8 179,524.9C177.3,524 176,524.4 174.6,523.1C173.2,521.9 171.3,519.4 170.6,517.6C169.9,515.8 170.3,515 170.6,512.6C170.9,510.1 171.2,504.6 172.4,502.9C173.5,501.3 175.2,502.9 177.4,502.5C179.7,502.1 183.4,501.3 185.8,500.5C188.2,499.8 190.9,498.8 191.8,498.1C192.8,497.3 192.7,496.5 191.6,496.1Z" fill="#000"/>
<path d="M166.7,506.1C165.7,504.9 161.7,506.9 159.3,507.1C156.8,507.4 153.2,507.4 152,507.6C150.8,507.7 150.8,507.7 151.9,508.1C153.1,508.5 156.6,508.9 158.8,509.9C161,510.9 164,514.6 165.3,514C166.6,513.4 167.7,507.2 166.7,506.1Z" fill="#000"/>
<path d="M203.3,567.4C201.9,567.1 198.6,568.9 196.4,569.9C194.2,570.9 190.9,572.9 189.9,573.6C188.8,574.3 188.9,574.4 190.1,574.3C191.3,574.1 194.7,572.9 197.2,572.5C199.6,572.2 203.6,572.9 204.6,572.1C205.6,571.2 204.6,567.8 203.3,567.4Z" fill="#000"/>
<path d="M125.4,550.4C124.6,550.3 122.7,550.7 120.8,550.8C119,550.9 116.7,551.3 114.2,551.2C111.7,551 108.2,549.6 105.9,549.9C103.6,550.3 102.3,552.2 100.4,553.4C98.6,554.5 96.6,555.7 94.7,557C92.8,558.2 91,559.7 89.3,560.9C87.6,562.1 86.5,562.7 84.3,564.1C82.2,565.6 79,567.7 76.5,569.5C73.9,571.3 70.8,572.9 68.8,574.8C66.7,576.8 65.6,579 64.2,581.3C62.8,583.5 61.5,586.2 60.5,588.2C59.5,590.3 59.3,591.4 58,593.6C56.7,595.8 52.8,598.4 52.9,601.3C53.1,604.2 57.7,608.5 59,611C60.2,613.6 60.1,614.9 60.6,616.7C61.1,618.5 61.6,621.1 62,622C62.5,622.9 62.6,622.9 63.1,622C63.6,621.1 64.6,618.6 65.1,616.4C65.6,614.2 66.4,611.3 66,608.6C65.5,606 62.6,602.4 62.5,600.6C62.4,598.9 64.2,599.3 65.3,598C66.4,596.7 68.3,595.1 69.1,592.9C70,590.8 69.3,587.1 70.4,585.1C71.5,583.2 74,582.8 75.6,581.1C77.3,579.3 78.3,576.5 80.3,574.6C82.4,572.7 85.7,570.8 87.9,569.6C90.1,568.4 91.8,568.7 93.6,567.6C95.3,566.5 96.7,564.5 98.4,563.1C100.1,561.8 102.1,560.8 103.8,559.7C105.4,558.5 106.5,557.4 108.3,556.4C110.1,555.4 112.6,554.3 114.7,553.7C116.9,553.1 119.4,553.4 121.2,553C122.9,552.6 124.8,551.7 125.5,551.3C126.2,550.9 126.2,550.5 125.4,550.4Z" fill="#000"/>
<path d="M106.5,556C107,555 104.9,551.8 104.5,549.8C104.1,547.7 104.2,544.5 104,543.5C103.9,542.5 104,542.5 103.6,543.5C103.2,544.5 101.8,547.7 101.5,549.8C101.2,551.8 100.9,555 101.7,556C102.6,557 106.1,557 106.5,556Z" fill="#000"/>
<path d="M63.7,591.9C63.5,590 59.8,588.9 57.2,587.3C54.6,585.6 50.8,583 48,582.1C45.1,581.2 42.6,581.8 40.1,582C37.6,582.1 35.1,582.7 32.8,583.2C30.5,583.7 28.9,584.8 26.3,585.1C23.6,585.4 19.5,584.8 16.9,585.2C14.3,585.6 11.3,585.8 10.6,587.5C10,589.3 11.8,595 13.2,595.8C14.5,596.6 16.4,592.9 18.8,592.4C21.3,591.9 25.4,593.2 27.9,592.8C30.4,592.4 31.7,590.7 33.8,590.1C35.8,589.4 38.4,588.7 40.3,588.8C42.3,588.9 43,590 45.2,590.8C47.4,591.5 51.2,592.1 53.4,593.4C55.6,594.7 56.8,598.8 58.6,598.6C60.3,598.3 63.9,593.8 63.7,591.9Z" fill="#000"/>
<path d="M49.6,586.8C50.9,586 50.8,583.7 50.9,581.4C51,579.2 50.3,575.9 50.1,573.2C49.9,570.5 49.7,567.4 49.7,565.1C49.8,562.8 50.5,560.6 50.5,559.7C50.4,558.7 49.8,558.7 49.4,559.5C49.1,560.4 48.7,562.7 48.2,564.9C47.7,567.1 46.9,570.1 46.3,572.7C45.8,575.4 45.4,578.5 44.9,580.7C44.4,582.9 42.5,585 43.3,586C44.1,587 48.3,587.5 49.6,586.8Z" fill="#000"/>
<path d="M114.3,570.3C113.9,571.5 112.5,574.7 112.5,577.2C112.6,579.7 113.6,583 114.8,585.5C116,588 117.5,590.3 119.6,592.4C121.7,594.5 124.8,597 127.5,598.1C130.2,599.2 132.8,599.1 135.6,599.2C138.4,599.3 141.5,598.6 144.3,598.5C147.1,598.4 149.8,598.8 152.4,598.7C155,598.5 157.5,598.1 159.9,597.8C162.3,597.5 165,597 166.8,596.9C168.7,596.8 169.5,596.3 171.1,597.2C172.6,598.2 174.3,601.7 176.2,602.7C178,603.7 180.3,602.5 182.2,603.4C184.2,604.2 186,606.2 188,607.7C190.1,609.1 192,611.2 194.4,612.1C196.8,613 199.8,612.3 202.3,613C204.8,613.6 207.2,614.8 209.6,616C211.9,617.2 214.3,619.1 216.4,620.2C218.5,621.3 220,622.1 222.1,622.6C224.2,623.2 226.7,623.1 228.9,623.7C231,624.4 232.8,625.8 235,626.6C237.2,627.4 239.2,628.5 241.9,628.6C244.7,628.6 248.6,627.3 251.4,626.8C254.3,626.3 256.5,625.7 258.9,625.5C261.3,625.2 263.6,625.6 265.9,625.2C268.2,624.9 270.3,623.2 272.8,623.1C275.3,623 278.5,624.5 281,624.7C283.4,624.8 286.4,625.8 287.8,623.9C289.1,622 290,615.3 289.1,613.2C288.2,611.1 285,611.4 282.3,611.1C279.6,610.8 275.9,611.3 273,611.3C270,611.3 267.4,610.9 264.5,610.9C261.6,610.9 258.3,610.4 255.8,611.3C253.2,612.1 251.4,615.3 249.1,616.1C246.9,616.8 243.9,615.9 242.1,615.8C240.3,615.6 239.9,615.6 238.4,615C236.9,614.3 235.3,612.5 233.3,612C231.3,611.4 228.6,612.1 226.4,611.6C224.3,611.1 222.8,609.9 220.5,609C218.3,608.1 215.5,607.1 213,606.3C210.6,605.4 208,604.7 205.8,603.7C203.6,602.6 201.8,600.8 199.6,600C197.3,599.3 194.2,600.2 192.1,599.2C190,598.2 188.8,595 186.9,594.1C185.1,593.1 183.1,594.4 180.8,593.7C178.5,593 175.5,590.5 173,589.8C170.5,589 168.3,589.2 166,589.2C163.7,589.2 161.4,589.7 159.1,589.8C156.8,589.9 154.6,589.8 152.1,590.1C149.7,590.3 147.1,591.3 144.5,591.3C142,591.3 139,590.6 136.6,590.2C134.3,589.9 132.5,590 130.4,589.3C128.3,588.7 125.9,587.2 124,586.2C122.1,585.2 120.3,585 118.9,583.4C117.5,581.9 116.1,579 115.5,576.9C114.9,574.7 115.4,571.4 115.2,570.3C115,569.2 114.8,569.2 114.3,570.3Z" fill="#000"/>
<path d="M224.4,612.4C225.7,611.2 225.6,607 225.7,604.1C225.8,601.3 225.2,597 225.1,595.5C224.9,594.1 225.4,594.2 224.7,595.5C224,596.8 221.8,600.6 220.8,603.3C219.7,605.9 217.8,609.8 218.4,611.4C219,612.9 223.2,613.6 224.4,612.4Z" fill="#000"/>
<path d="M246,620.4C247.2,619.5 247.3,616.2 247.4,613.9C247.6,611.7 247,608.2 246.8,607C246.6,605.9 247.1,606 246.4,607C245.7,607.9 243.4,610.9 242.4,612.9C241.4,615 239.7,618 240.4,619.3C241,620.5 244.8,621.3 246,620.4Z" fill="#000"/>
<path d="M166,567.1C166.2,568.1 167.4,571 167.8,572.5C168.2,574 169.3,574.3 168.2,576.2C167.1,578.2 163.5,581.3 161.3,584C159.2,586.7 154.9,590.2 155.5,592.5C156.1,594.8 162.8,598.4 164.9,597.7C166.9,597.1 166.4,591.8 167.8,588.5C169.2,585.2 172.8,580.8 173.2,577.9C173.6,575 171.3,573.2 170.2,571.3C169.1,569.4 167.3,567.4 166.6,566.7C165.9,566 165.8,566.1 166,567.1Z" fill="#000"/>
<path d="M153.8,593.9C152.3,593.4 149.8,595.7 147.3,596.9C144.9,598 141.7,599.3 139.1,600.8C136.4,602.3 133.7,604.5 131.4,606C129.1,607.5 126.4,609 125.4,609.7C124.4,610.3 124.3,610.1 125.5,609.9C126.7,609.7 129.9,609.1 132.5,608.4C135.2,607.7 138.4,606.8 141.2,605.8C144,604.8 147,603.3 149.5,602.4C152,601.5 155.6,601.8 156.3,600.4C157,599 155.3,594.5 153.8,593.9Z" fill="#000"/>
<path d="M166.8,594.7C165.5,595.8 166,599.5 166.2,602C166.3,604.5 167.4,608.3 167.8,609.6C168.3,610.9 168.5,610.9 168.9,609.8C169.3,608.6 169.5,604.9 170.4,602.5C171.2,600.1 174.6,596.7 174,595.4C173.4,594.1 168.1,593.6 166.8,594.7Z" fill="#000"/>
<path d="M194.7,606C193.9,607.1 195.4,610.2 195.7,612.4C196,614.5 196.4,617.6 196.6,618.7C196.9,619.8 197.2,619.8 197.4,618.7C197.6,617.6 197.4,614.5 197.9,612.4C198.5,610.2 201.1,607.1 200.6,606C200.1,604.9 195.6,604.9 194.7,606Z" fill="#000"/>
<path d="M221.7,518.9C222.6,519.4 225,520.2 227.1,521C229.2,521.7 232.3,522.4 234.3,523.3C236.4,524.2 238.1,525.4 239.2,526.5C240.4,527.6 240.8,528.4 241.4,529.9C242,531.5 242.1,533.7 242.8,535.8C243.6,538 244.9,540.6 245.8,542.8C246.7,545.1 247.2,547.1 248.2,549.2C249.2,551.4 250.6,553.5 251.7,555.7C252.9,557.9 254.1,560.2 255.1,562.3C256.1,564.5 256.9,566.3 257.8,568.6C258.7,570.9 259.2,573.9 260.5,576C261.8,578 264.5,579 265.7,580.9C266.8,582.8 266.5,585.4 267.3,587.5C268.1,589.5 269.7,591.1 270.6,593C271.5,594.9 272,597.2 272.9,598.9C273.7,600.7 274.2,601.1 275.6,603.6C277,606 279.8,610.1 281.2,613.6C282.5,617.2 282.5,622.2 283.6,625C284.7,627.8 286.6,628.6 287.9,630.5C289.1,632.5 290,634.7 291.2,636.8C292.4,638.8 293.7,640.8 295.1,642.6C296.5,644.3 298,645.9 299.5,647.5C301,649.1 302.9,650.3 304.2,652C305.6,653.7 306.4,655.9 307.7,657.8C309,659.8 310.5,661.9 312.1,663.6C313.6,665.3 315.3,667 317.1,668.2C318.8,669.4 321,669.2 322.8,670.7C324.5,672.2 326.2,675.2 327.6,677.5C329.1,679.7 329.9,681.2 331.4,684C332.9,686.9 334.1,693.7 336.7,694.6C339.4,695.5 346.5,691.9 347.2,689.3C347.9,686.7 342.4,682.1 341.1,678.9C339.7,675.8 340.2,673.2 338.8,670.5C337.5,667.8 334.9,664.9 333,662.7C331.2,660.5 329.2,659.4 327.7,657.5C326.1,655.6 325.3,653 323.7,651.4C322,649.8 319.6,649.2 318,647.8C316.4,646.5 315.2,644.8 313.8,643.3C312.4,641.9 311.1,640.4 309.6,639.1C308,637.7 306,636.9 304.5,635.4C303.1,633.9 302.1,631.8 300.9,630C299.8,628.2 298.2,626.3 297.4,624.5C296.7,622.8 297.5,622.1 296.6,619.5C295.7,616.9 293.9,612.6 292.2,609C290.6,605.4 288.2,600.5 286.8,597.8C285.4,595.2 284.9,594.6 283.6,593C282.3,591.4 280.3,590 279,588.3C277.7,586.5 276.8,584.4 275.8,582.4C274.8,580.5 274.2,578.3 273,576.4C271.8,574.5 269.8,573.2 268.5,571.2C267.3,569.2 266.6,566.4 265.4,564.4C264.3,562.3 263.2,560.7 261.9,558.8C260.6,556.9 258.5,555 257.4,552.9C256.3,550.7 256.3,547.8 255.5,545.7C254.6,543.6 253.1,542.3 252.1,540.3C251.2,538.3 250.5,535.9 249.8,533.7C249,531.5 248.9,529.1 247.9,527.1C246.8,525 245.4,522.9 243.5,521.2C241.6,519.5 239.1,517.3 236.4,516.7C233.8,516.1 230.1,517.5 227.7,517.6C225.2,517.8 222.9,517.6 221.9,517.8C220.9,518 220.9,518.4 221.7,518.9Z" fill="#000"/>
<path d="M245.2,524.3C246.1,522.8 244,515.8 243.6,514.1C243.1,512.4 243.2,512.4 242.3,513.9C241.5,515.4 237.9,521.5 238.4,523.2C238.9,524.9 244.4,525.8 245.2,524.3Z" fill="#000"/>
<path d="M286.8,614.7C287.8,616.1 289.8,615.4 291.8,615C293.7,614.6 296.2,612.9 298.5,612.3C300.9,611.8 303.7,612.7 305.8,611.6C308,610.4 310,607.5 311.6,605.5C313.2,603.6 313,601.3 315.3,599.6C317.7,598 324.1,596.5 325.8,595.8C327.6,595.1 327.6,595.1 325.7,595.3C323.7,595.6 317,596.3 314.2,597.5C311.4,598.6 310.7,600.8 308.7,602C306.8,603.3 304.5,604.6 302.5,605.2C300.6,605.7 299,605.2 297,605.5C295,605.8 292.5,606.8 290.6,607C288.7,607.3 286.3,605.5 285.6,606.8C285,608.1 285.7,613.4 286.8,614.7Z" fill="#000"/>
<path d="M249.5,490.4C250.3,490.6 252.5,490.2 254.5,490.7C256.6,491.2 259.1,492.4 261.6,493.4C264.2,494.4 267.2,495.9 269.8,496.6C272.4,497.3 274.6,497.4 277.3,497.6C280,497.8 283.1,498 285.8,497.9C288.5,497.8 291.4,497 293.6,496.9C295.8,496.8 298.1,499.2 299,497.3C299.8,495.3 299.6,487 298.6,485.1C297.7,483.1 295.4,485 293.2,485.5C291.1,485.9 288.2,487.2 285.6,487.7C282.9,488.2 279.8,488.3 277.3,488.3C274.7,488.4 272.7,488 270.2,488.2C267.6,488.4 264.5,489.6 262,489.5C259.5,489.4 257.1,487.4 255,487.4C252.9,487.4 250.5,489.1 249.6,489.6C248.7,490.1 248.7,490.2 249.5,490.4Z" fill="#000"/>
<path d="M282.2,495.3C279.8,495.3 280.7,498.3 279.9,500.5C279.1,502.6 278,505.6 277.3,508.4C276.6,511.1 275.3,514 275.7,516.9C276,519.8 277.9,523 279.5,525.6C281,528.1 282.9,530.5 285,532.3C287.1,534.1 290.1,534.8 292,536.3C293.9,537.9 295.1,540.3 296.2,541.9C297.3,543.4 297.7,543.9 298.5,545.6C299.3,547.2 300.4,549.6 301,551.7C301.6,553.8 301.4,555.9 302.2,558.3C303,560.6 304.5,563.2 305.9,565.8C307.4,568.3 308.5,571.7 310.9,573.6C313.3,575.6 317.2,576.4 320.2,577.5C323.2,578.6 326.2,579.1 328.9,580.1C331.6,581.1 334,582.2 336.3,583.5C338.6,584.9 340.6,586.8 342.6,588.4C344.5,590 346.2,591.4 347.8,593C349.4,594.6 350.7,596.1 352.2,598C353.7,599.8 355.9,601.8 357,604.2C358.1,606.5 356.9,609.4 358.8,612.1C360.7,614.9 365.3,620.9 368.4,620.8C371.6,620.7 376.1,613.1 377.6,611.5C379.1,610 378.9,610.5 377.5,611.3C376,612.2 370.8,617.2 369,616.7C367.1,616.2 367.2,610.7 366.2,608.1C365.3,605.5 364.5,603.4 363.3,601C362,598.5 360.2,595.9 358.7,593.5C357.2,591.2 355.9,588.9 354.2,586.7C352.5,584.5 351,582.1 348.7,580.5C346.4,578.9 343,578.5 340.4,577C337.9,575.4 335.9,572.5 333.2,571C330.6,569.6 327,569.2 324.4,568.1C321.9,567.1 319.5,566 318,564.7C316.6,563.4 316.6,561.9 315.7,560.1C314.8,558.3 313.9,555.8 312.9,553.9C311.8,552 310.1,550.8 309.4,548.7C308.7,546.6 309.7,543.6 308.9,541.3C308,538.9 306.4,536.6 304.4,534.7C302.3,532.8 298.8,531.4 296.7,529.8C294.5,528.2 292.9,526.7 291.4,525.2C289.9,523.7 288.7,522.4 287.7,520.9C286.7,519.4 285.3,517.9 285.2,516.4C285.1,514.9 286.6,513.8 287.3,511.8C288,509.9 288.3,506.6 289.4,504.7C290.5,502.9 295.1,502.3 293.9,500.7C292.7,499.2 284.5,495.3 282.2,495.3Z" fill="#000"/>
<path d="M288,537.2C287,538 289.2,540.8 289.3,543.1C289.4,545.3 288.8,548.4 288.6,550.6C288.3,552.7 287.9,555.1 287.9,556C287.9,556.9 288.1,556.9 288.5,556.1C289,555.3 289.8,553 290.8,551C291.7,549 293.3,546.1 294.1,544.1C295,542 296.7,540 295.7,538.8C294.7,537.7 289.1,536.5 288,537.2Z" fill="#000"/>
<path d="M400.3,544.5C398.2,544.7 399,547 398.5,548.8C397.9,550.7 397.2,553 397.1,555.6C397,558.1 398,561.4 397.7,564C397.5,566.7 396.2,569.3 395.6,571.6C394.9,574 394.2,576.4 393.8,578.2C393.4,580.1 393.3,582.1 393.3,583C393.3,583.8 393.4,583.8 393.9,583.2C394.4,582.5 395.4,580.7 396.1,579C396.8,577.2 397.1,574.7 398.2,572.5C399.4,570.3 401.9,568.1 403.1,565.7C404.3,563.3 404.7,560.5 405.4,558.2C406,555.8 406.1,553.2 407.1,551.5C408,549.8 412.3,549.1 411.1,547.9C410,546.8 402.4,544.4 400.3,544.5Z" fill="#000"/>
<path d="M422,583.1C420.5,582.3 416.2,585.7 413.2,586.5C410.3,587.3 406,587.6 404.5,587.9C403,588.3 403,588.1 404.5,588.6C406,589 410.3,590.1 413.2,590.6C416.2,591 420.5,592.6 422,591.4C423.5,590.1 423.5,583.9 422,583.1Z" fill="#000"/>
<path d="M412.1,635.5C410.8,634.1 408.6,635.7 406.4,636.7C404.2,637.7 401.4,640.6 398.7,641.7C396,642.9 392.7,643 390.3,643.6C388,644.1 385.6,644.7 384.7,645C383.8,645.4 383.8,645.7 384.8,645.8C385.8,645.8 388.3,645.4 390.7,645.5C393.2,645.5 396.7,646.3 399.5,645.9C402.4,645.6 405.3,643.7 407.7,643.5C410.1,643.3 413.2,646 413.9,644.7C414.7,643.3 413.4,636.8 412.1,635.5Z" fill="#000"/>
<path d="M316.4,492C315.7,493 316.1,496 316.5,498C316.8,500 318,503 318.4,504C318.8,505 318.7,505 318.8,504C319,503 319.1,500 319.4,498C319.7,496 321.1,493 320.6,492C320.1,491 317.1,491 316.4,492Z" fill="#000"/>
<path d="M359.7,503.3C358.9,504.3 360.1,507.3 360.8,509.2C361.4,511.2 363,514.1 363.6,515C364.2,516 364.1,516 364.3,515C364.4,514 364.4,510.9 364.7,508.9C364.9,506.9 366.5,503.7 365.7,502.8C364.9,501.8 360.5,502.2 359.7,503.3Z" fill="#000"/>
<path d="M43.1,642.6C44.6,643.4 45.5,639.7 47.2,639C48.8,638.3 51.4,638.2 52.8,638.5C54.1,638.7 54.1,639.3 55.3,640.6C56.5,641.8 58,644.3 60.1,645.9C62.1,647.5 65.1,649.3 67.5,650.1C70,651 72.4,650.4 74.8,650.9C77.1,651.3 79.2,652.1 81.4,653C83.6,653.9 85.7,655.2 87.8,656.3C89.9,657.3 92,658.7 94.2,659.2C96.5,659.8 99,659.5 101.3,659.5C103.6,659.4 106.1,658.7 108.1,659.1C110.2,659.5 112,661.3 113.8,662C115.6,662.6 117,662.3 118.9,663C120.8,663.7 123,665.1 125.2,666C127.4,666.9 130,667.3 132.4,668.4C134.8,669.4 137,671 139.4,672.3C141.7,673.7 144,675.7 146.5,676.3C149,676.9 151.9,675.6 154.3,675.9C156.7,676.1 158.3,677.3 161,677.8C163.7,678.4 167.3,679 170.5,679.1C173.8,679.2 177.6,679 180.4,678.6C183.3,678.2 185.4,677.2 187.6,676.6C189.8,676.1 191.9,675.6 193.5,675.6C195,675.5 195.4,676.2 196.9,676.4C198.4,676.5 200.5,675.4 202.3,676.6C204.1,677.9 205.2,682.1 207.7,683.8C210.1,685.5 213.9,686.5 217.1,687.1C220.3,687.6 223.8,687 227,687C230.1,687 233.4,687.2 236.1,687C238.8,686.8 241,686.4 243.3,685.8C245.5,685.1 248.8,683.4 249.7,683.2C250.7,683 248.5,683.1 249.1,684.6C249.6,686.1 251.3,690.1 252.9,692.3C254.5,694.4 256.8,696.3 258.7,697.6C260.7,698.9 263.3,699.1 264.7,699.9C266.2,700.6 266.7,700.5 267.6,702.1C268.6,703.6 269,706.2 270.3,709C271.7,711.7 272.8,716.3 275.8,718.4C278.8,720.5 285.4,720.5 288.6,721.3C291.8,722.1 292.7,723.1 295,723.5C297.3,723.8 300.1,723.2 302.3,723.4C304.6,723.6 306.3,724.2 308.4,724.9C310.5,725.6 313.2,726.7 315,727.6C316.8,728.5 318.4,730 319.2,730.4C319.9,730.8 320,730.7 319.5,730C319,729.2 317.7,727.3 316.2,725.8C314.8,724.4 312.5,722.9 310.7,721.2C309,719.5 307.9,717 305.7,715.7C303.5,714.3 300.2,713.9 297.8,713C295.5,712.2 294,711.3 291.6,710.6C289.2,709.8 285.1,709.6 283.7,708.3C282.2,707.1 283.9,705.4 282.9,703C281.8,700.7 279.6,696.6 277.6,694.4C275.7,692.1 273.1,690.8 271.1,689.4C269.1,687.9 267,686.6 265.5,685.8C264,684.9 263.1,685.5 262,684.4C260.9,683.3 260.3,681.6 258.7,679.3C257.2,677.1 255.7,672.3 252.6,671.1C249.6,669.9 243.6,671.6 240.5,672C237.4,672.4 236.4,672.9 234.1,673.5C231.7,674.2 228.7,675.8 226.5,675.8C224.2,675.8 222.5,674.3 220.6,673.7C218.7,673.1 217,673.5 215.1,672.2C213.1,670.9 211.6,667.6 209.1,666C206.6,664.4 203.1,663.5 200.1,662.8C197,662.2 193.5,661.8 190.9,662.2C188.2,662.5 186.1,664.3 184.2,665C182.3,665.7 181.6,666.5 179.5,666.6C177.5,666.6 174.6,665.6 172,665.1C169.3,664.5 166.1,663.4 163.6,663.1C161.1,662.8 159.2,663.6 157,663.3C154.9,663.1 152.6,662.6 150.6,661.8C148.5,660.9 146.9,659.2 145,658.3C143,657.4 140.8,657.5 138.7,656.3C136.6,655.2 134.9,652.8 132.5,651.5C130,650.2 126.7,649.4 124.2,648.5C121.6,647.7 119.5,647 117.3,646.4C115,645.9 112.8,645.2 110.5,645.1C108.3,645 105.9,646.4 103.8,646.1C101.7,645.8 99.9,644 98,643.2C96,642.4 93.9,641.7 91.8,641.2C89.7,640.6 87.4,640 85.2,639.8C83,639.7 80.2,640.9 78.3,640.3C76.5,639.7 75.9,637.3 74.1,636.3C72.3,635.2 69.5,635.3 67.4,634.2C65.3,633.1 64,630.7 61.6,629.6C59.3,628.4 56.3,627.5 53.2,627.4C50.2,627.3 45.8,628 43.3,629.1C40.7,630.2 37.9,631.8 37.9,634C37.9,636.3 41.5,641.8 43.1,642.6Z" fill="#000"/>
<path d="M252.3,683C252.7,681.4 251.2,675.2 250.8,673.6C250.4,672 250.4,672 250,673.6C249.6,675.2 248.1,681.4 248.4,683C248.8,684.6 251.9,684.6 252.3,683Z" fill="#000"/>
<path d="M271.7,712C271.1,713.3 272.2,717.1 272.5,719.6C272.8,722.2 273,726 273.3,727.3C273.6,728.6 273.7,728.6 274.2,727.3C274.8,726 276.3,722.2 276.6,719.6C276.9,717.1 276.9,713.3 276,712C275.2,710.7 272.3,710.7 271.7,712Z" fill="#000"/>
<path d="M295.7,722.4C294.8,723.7 296.4,727.1 297.2,729.4C297.9,731.8 299.4,735.2 300.1,736.4C300.8,737.5 301.1,737.4 301.2,736.2C301.4,735 300.7,731.5 300.9,729C301.1,726.6 303.4,722.7 302.5,721.6C301.6,720.5 296.6,721.1 295.7,722.4Z" fill="#000"/>
<path d="M35.4,635.9C33.3,635.9 33.5,638.5 32.5,640.4C31.5,642.4 30.2,645.2 29.4,647.7C28.6,650.3 27.2,652.9 27.5,655.8C27.8,658.7 29.3,662.4 31,665.3C32.6,668.1 35.1,671.4 37.4,672.9C39.7,674.5 42.4,673.8 44.8,674.3C47.2,674.9 49.5,676.2 51.8,676.2C54.2,676.3 56.8,674.6 59,674.5C61.2,674.4 62.9,674.8 65.1,675.5C67.3,676.2 69.8,677.8 72,678.7C74.1,679.5 76.4,680.2 78.1,680.7C79.7,681.1 80.6,680.7 82,681.6C83.5,682.4 85.4,683.8 86.9,685.7C88.5,687.6 89.7,691 91.3,693C92.9,695.1 94.7,696.5 96.5,698.1C98.3,699.6 100.4,700.7 102.2,702.3C104,703.8 105.5,705.9 107.3,707.4C109.2,708.9 111.2,710.1 113.3,711.1C115.5,712.1 117.9,712.4 120.1,713.4C122.3,714.3 124.7,715.6 126.6,716.8C128.6,718 129.8,719.6 131.6,720.8C133.4,721.9 135.6,722.5 137.6,723.4C139.6,724.3 141.5,725.5 143.5,726.3C145.4,727.1 147.1,727.6 149.3,728.3C151.4,729 154,729.7 156.4,730.4C158.8,731.1 161.1,731.7 163.5,732.4C166,733.2 168.7,734.4 171.1,734.9C173.5,735.4 175.7,735.3 178,735.5C180.3,735.7 182.7,735.8 185,736.1C187.2,736.4 189.5,736.8 191.4,737.3C193.3,737.9 194.3,739.1 196.4,739.4C198.5,739.8 201.9,738.9 204.1,739.3C206.4,739.8 207.9,741 209.7,742.1C211.6,743.2 213,744.4 215,745.7C217,747.1 220.1,748.7 221.8,750.3C223.6,751.8 223.9,754.9 225.4,754.8C227,754.7 230.5,751.5 230.9,749.8C231.4,748.1 229.4,746.5 228.1,744.4C226.7,742.4 224.7,739.9 222.8,737.7C220.8,735.6 219,733.4 216.6,731.6C214.1,729.9 211.1,728.1 208.2,727.2C205.2,726.3 201.3,726.6 198.7,726.3C196.1,726.1 194.6,726.1 192.4,725.8C190.3,725.5 187.9,724.7 185.7,724.6C183.5,724.4 181.2,724.8 179.1,724.7C177.1,724.6 175.6,724.3 173.6,723.9C171.5,723.5 169.2,722.9 167.1,722.1C165,721.3 163.2,720.3 161.2,719.1C159.1,717.9 157.1,715.6 155,714.9C152.9,714.1 150.4,715.3 148.4,714.8C146.4,714.3 144.7,712.6 142.8,711.6C141,710.6 138.9,709.9 137.2,708.8C135.5,707.8 134.5,705.9 132.5,705C130.6,704.2 127.3,704.8 125.3,703.8C123.3,702.8 122.4,700.2 120.7,698.9C119,697.7 117,697.1 115.1,696.1C113.2,695.2 111.1,694.3 109.4,693.1C107.7,691.8 106.1,690.1 104.8,688.7C103.4,687.3 102.8,686.3 101.2,684.6C99.7,683 97.7,680.8 95.7,678.7C93.7,676.5 91.7,673.4 89.4,671.6C87.1,669.8 84.5,668.8 82,667.9C79.5,666.9 77,666.3 74.4,665.9C71.8,665.6 68.9,665.6 66.4,665.7C63.9,665.7 61.8,666.6 59.5,666.4C57.2,666.2 54.6,664.6 52.4,664.3C50.2,663.9 47.9,664.2 46.2,664.3C44.6,664.4 43.8,665.4 42.6,664.9C41.4,664.4 39.4,662.8 38.8,661.3C38.3,659.8 38.8,657.7 39,656C39.2,654.3 39.2,652.9 40,651.2C40.9,649.4 43.2,647.1 44.1,645.3C45,643.5 46.8,641.8 45.3,640.2C43.9,638.6 37.6,635.8 35.4,635.9Z" fill="#000"/>
<path d="M64.9,650.8C64.2,652.3 67,658.5 67.7,660C68.3,661.5 68.1,661.5 68.8,660C69.6,658.5 72.7,652.3 72.1,650.8C71.4,649.3 65.6,649.3 64.9,650.8Z" fill="#000"/>
<path d="M194.9,709.2C194.5,710.4 193.3,713.5 193,716.3C192.7,719 192.9,723 193.2,725.7C193.6,728.3 193.4,731.3 194.9,732.3C196.4,733.3 201.2,732.8 202.2,731.5C203.2,730.3 201.5,727.5 200.9,724.8C200.3,722.2 199.6,718.3 198.7,715.6C197.9,713 196.5,710.2 195.9,709.1C195.3,708.1 195.4,708 194.9,709.2Z" fill="#000"/>
<path d="M212.5,716.8C212.3,717.9 211.9,720.6 211.6,723C211.3,725.4 210.8,729 210.6,731.4C210.4,733.8 209.1,736.6 210.5,737.4C211.8,738.3 217.7,737.7 218.8,736.6C220,735.5 217.8,733.1 217.4,730.7C216.9,728.4 216.9,724.9 216.2,722.5C215.5,720.2 213.7,717.7 213.1,716.8C212.5,715.8 212.7,715.8 212.5,716.8Z" fill="#000"/>
<path d="M6,709.9C7.4,711.2 9.6,709.6 12.2,709.1C14.8,708.7 19,707.8 21.6,707.1C24.1,706.4 25.5,705.9 27.7,705.1C29.9,704.3 32.4,703.1 34.7,702.2C37,701.4 39.6,700.7 41.6,700.1C43.7,699.6 45.4,699.4 47.2,698.9C48.9,698.3 52,698.9 52.2,697C52.4,695.2 49.7,689.4 48.2,687.9C46.7,686.4 44.8,687.5 43.1,687.9C41.5,688.2 40.4,689 38.6,689.9C36.7,690.8 34.3,692.3 32.1,693.2C29.8,694.2 27.1,695 24.9,695.6C22.7,696.2 21.2,695.9 18.7,696.8C16.2,697.6 12.4,699.8 10,700.6C7.5,701.4 4.6,700.1 3.9,701.6C3.3,703.2 4.7,708.7 6,709.9Z" fill="#000"/>
<path d="M43.6,694.3C41.9,696 44.5,699 44.9,701.9C45.2,704.8 45,708.7 45.7,711.8C46.4,714.9 48.3,718 49.3,720.6C50.3,723.1 49.3,726.7 51.8,727.3C54.2,727.9 62.3,725.9 64,724.2C65.6,722.6 62.1,720.2 61.5,717.5C60.9,714.8 61.3,711.2 60.5,708.2C59.8,705.1 58,701.7 57.1,699C56.1,696.2 57,692.4 54.7,691.6C52.5,690.8 45.2,692.6 43.6,694.3Z" fill="#000"/>
<path d="M75.6,704.1C75.8,705.3 77.7,708 78.1,710.9C78.5,713.8 77.2,718.6 77.8,721.5C78.4,724.3 81.1,725.5 81.7,728C82.3,730.5 80.9,734.2 81.5,736.4C82,738.6 82.6,740.9 84.8,741.2C86.9,741.5 93.5,739.4 94.6,738.1C95.6,736.8 92.1,735.3 91,733.3C89.8,731.3 88.6,728.5 87.6,726C86.7,723.6 86.7,721.4 85.4,718.8C84.1,716.2 81.1,712.8 79.6,710.3C78.1,707.8 77.2,704.8 76.5,703.8C75.8,702.7 75.3,702.9 75.6,704.1Z" fill="#000"/>
<path d="M238.2,623.1C237.1,624.6 240.3,627.6 241,630.3C241.7,633.1 241.9,636.9 242.2,639.5C242.6,642.1 243.1,643.6 243.3,645.9C243.6,648.2 243.6,650.8 243.8,653.3C244,655.8 244.3,658.3 244.6,661C244.9,663.7 245,667.2 245.6,669.5C246.2,671.9 247,674.5 248.3,675.4C249.7,676.2 252.8,675.8 253.7,674.6C254.6,673.5 253.8,670.9 253.7,668.5C253.6,666 253.4,662.6 253.2,659.9C252.9,657.2 252.3,654.8 252,652.4C251.6,649.9 251.1,647.5 251,645.1C250.9,642.7 251.4,640.8 251.3,638C251.2,635.2 251.1,631.1 250.5,628.3C249.8,625.5 249.4,621.9 247.4,621C245.3,620.1 239.3,621.5 238.2,623.1Z" fill="#000"/>
<path d="M30,755C34.2,749.5 58.8,750.7 71.7,748C84.6,745.3 95.6,739.7 107.5,739C119.4,738.3 131.7,741 143.3,744C154.9,747 171.1,753.8 177,757C182.9,760.2 179.2,761 179,763.2C178.8,765.4 177.1,766.9 175.6,770C174.1,773.1 171.8,778.4 170,782C168.2,785.6 168.1,787.5 164.8,791.8C161.6,796.1 156.5,803.8 150.5,808C144.5,812.2 136.2,815.2 129,817C121.8,818.8 115,819.9 107.5,819C100,818.1 91.7,814.8 84.2,811.5C76.7,808.2 69,804.1 62.7,799C56.4,793.9 52.1,788.3 46.6,781C41.1,773.7 25.8,760.5 30,755Z" fill="#000"/>
<path d="M182,760C186.2,757.2 204.7,757.7 215,758C225.3,758.3 239.7,759 244,762C248.3,765 242.5,772.3 241,776C239.5,779.7 237.3,781.8 235,784C232.7,786.2 230.5,787.8 227.2,789C223.9,790.2 219.5,791.7 215,791C210.5,790.3 204.2,787.7 200,785C195.8,782.3 193,779.2 190,775C187,770.8 177.8,762.8 182,760Z" fill="#000"/>
<path d="M35.4,756.4C45.2,755.8 82.1,754.5 94.2,753C106.3,751.5 99.3,747.4 108,747.5C116.7,747.6 135.1,751 146.1,753.8C157.1,756.6 169.2,762.5 173.8,764.2" fill="none" stroke="#fff" stroke-width="1.5"/>
<path d="M37.1,759.5C43.7,759.2 64.5,758.2 76.9,757.8C89.3,757.4 95.3,755.5 111.5,756.9C127.7,758.3 163.4,764.5 173.8,766" fill="none" stroke="#fff" stroke-width="1.5"/>
<path d="M38.8,764.2C48,764.5 71.7,765.4 94.2,766C116.7,766.6 160.5,767.4 173.8,767.7" fill="none" stroke="#fff" stroke-width="1.5"/>
<path d="M42.3,769.4C50.9,770 72.3,772.8 94.2,772.9C116.1,773 160.5,770.7 173.8,770.3" fill="none" stroke="#fff" stroke-width="1.5"/>
<path d="M47.5,776.3C55.3,777.2 80.7,780.9 94.2,781.5C107.8,782.1 115.8,781.2 128.8,779.8C141.8,778.4 164.9,774 172.1,772.9" fill="none" stroke="#fff" stroke-width="1.5"/>
<path d="M52.7,783.3C59.6,784.4 81.5,789.4 94.2,790.2C106.9,791.1 116.1,790.7 128.8,788.4C141.5,786.1 163.4,778.3 170.3,776.3" fill="none" stroke="#fff" stroke-width="1.5"/>
<path d="M61.3,791.9C66.8,793 83,797.9 94.2,798.8C105.5,799.7 116.7,800 128.8,797.1C140.9,794.2 160.6,784.1 166.9,781.5" fill="none" stroke="#fff" stroke-width="1.5"/>
<path d="M73.4,802.3C78.3,803.4 92.2,808.9 102.9,809.2C113.6,809.5 127.4,807.5 137.5,804C147.6,800.5 159.1,791 163.4,788.4" fill="none" stroke="#fff" stroke-width="1.5"/>
<path d="M189.4,766C193.7,766 206.7,766 215.3,766C224,766 237,766 241.3,766" fill="none" stroke="#fff" stroke-width="1.5"/>
<path d="M189.4,768.5C193.7,769.1 207,771.1 215.3,772C223.7,772.9 235.5,773.4 239.5,773.7" fill="none" stroke="#fff" stroke-width="1.5"/>
<path d="M191.1,771.1C195.1,772.2 207.8,776.3 215.3,778C222.8,779.7 232.6,780.9 236.1,781.5" fill="none" stroke="#fff" stroke-width="1.5"/>
<path d="M194.6,774.6C198.1,776.2 209.5,781.9 215.3,784.1C221.1,786.3 226.9,787 229.2,787.6" fill="none" stroke="#fff" stroke-width="1.5"/>
<!--/ORGANS-->
<g font-family="Liberation Sans" font-weight="bold" fill="#fff" fill-opacity="0.72">
<text x="0" y="0" font-size="40.6" transform="translate(43.9,577.5) scale(0.434,1)">a</text>
<text x="0" y="0" font-size="44.3" transform="translate(343.6,577.5) scale(0.511,1)">a</text>
<text x="0" y="0" font-size="43.0" transform="translate(191.4,706.6) scale(0.581,1)">a</text>
<text x="0" y="0" font-size="41.5" transform="translate(642.0,838.0) scale(0.607,1)">a</text>
<text x="0" y="0" font-size="46.0" transform="translate(1090.4,707.4) scale(0.621,1)">a</text>
<rect x="83.8" y="808.3" width="19" height="7.7" fill="#fff" fill-opacity="0.5"/>
</g>

<g fill="#fff" fill-opacity="0.55">
<rect x="342" y="312" width="14" height="6"/><rect x="642" y="312" width="13" height="6"/><rect x="942" y="312" width="13" height="6"/>
<rect x="192" y="417" width="11" height="19"/><rect x="1083" y="417" width="10.5" height="19"/>
<rect x="898" y="22" width="32" height="42"/><rect x="944" y="28" width="10" height="36"/><rect x="969" y="28" width="10" height="36"/><rect x="988" y="28" width="11" height="36"/>
</g>

</svg>
<div id="bar"></div>
<div class="t" id="logo" style="left:49px;top:1148.5px;font-size:59px;font-weight:bold;color:#fff;letter-spacing:-3px;transform:scaleX(0.655);-webkit-text-stroke:1.2px #fff">alamy</div>
<div class="t" id="imgid" style="left:1119px;top:1162px;font-size:13.5px;color:#fff;transform:scaleX(1.08);">Image ID: 2YAH2CA</div>
<div class="t" id="www" style="left:1116px;top:1184px;font-size:15.5px;font-weight:bold;color:#fff;transform:scaleX(1.145);">www.alamy.com</div>
</body></html>
